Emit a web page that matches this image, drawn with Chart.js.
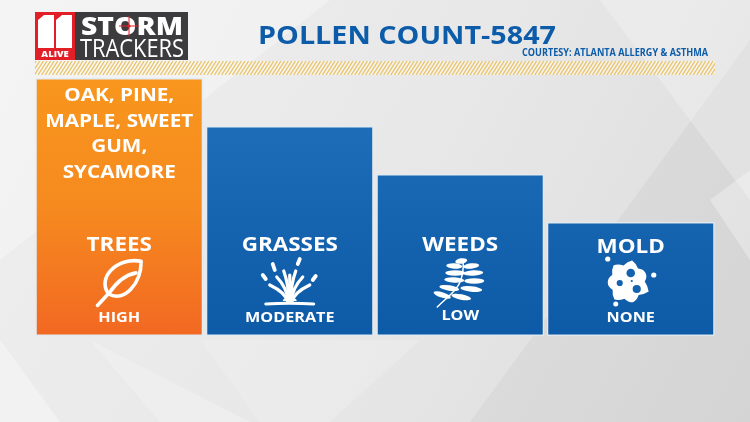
<!DOCTYPE html>
<html>
<head>
<meta charset="utf-8">
<script src="https://cdn.jsdelivr.net/npm/chart.js@4"></script>
<style>
  html,body{margin:0;padding:0;background:#e6e6e6;}
  canvas{display:block;}
</style>
</head>
<body>
<canvas id="c" width="750" height="422"></canvas>
<script>
// ---- data ----
const categories = ['TREES', 'GRASSES', 'WEEDS', 'MOLD'];
const levelLabels = ['HIGH', 'MODERATE', 'LOW', 'NONE'];
const levelValues = [4, 3, 2, 1];
const treeSpecies = ['OAK, PINE,', 'MAPLE, SWEET', 'GUM,', 'SYCAMORE'];
const pollenCount = 5847;
const titleText = 'POLLEN COUNT-' + pollenCount;
const courtesyText = 'COURTESY: ATLANTA ALLERGY & ASTHMA';

const FONT = '"Open Sans", "DejaVu Sans", sans-serif';
const BLUE = '#1462ae';

// draw text with a given font size, stretched horizontally by factor sx
function stretchText(ctx, text, x, y, weight, size, sx) {
  ctx.save();
  ctx.font = weight + ' ' + size + 'px ' + FONT;
  ctx.translate(x, y);
  ctx.scale(sx, 1);
  ctx.fillText(text, 0, 0);
  ctx.restore();
}

// ---- background / header plugin ----
const bgPlugin = {
  id: 'bg',
  beforeDraw(chart) {
    const ctx = chart.ctx, W = chart.width, H = chart.height;
    ctx.save();
    const g = ctx.createLinearGradient(0, 0, W, H);
    g.addColorStop(0, '#efefef');
    g.addColorStop(0.5, '#e8e8e8');
    g.addColorStop(1, '#dcdcdc');
    ctx.fillStyle = g;
    ctx.fillRect(0, 0, W, H);
    const poly = (pts, col) => {
      ctx.beginPath();
      ctx.moveTo(pts[0][0], pts[0][1]);
      for (let i = 1; i < pts.length; i++) ctx.lineTo(pts[i][0], pts[i][1]);
      ctx.closePath(); ctx.fillStyle = col; ctx.fill();
    };
    poly([[0, 0], [330, 0], [0, 260]], 'rgba(255,255,255,0.30)');
    poly([[0, 340], [60, 422], [0, 422]], 'rgba(255,255,255,0.35)');
    poly([[90, 340], [250, 422], [160, 422]], 'rgba(255,255,255,0.22)');
    poly([[200, 340], [420, 340], [330, 422], [260, 422]], 'rgba(255,255,255,0.16)');
    poly([[470, 422], [750, 40], [750, 422]], 'rgba(0,0,0,0.035)');
    poly([[600, 0], [750, 0], [750, 200]], 'rgba(255,255,255,0.25)');
    poly([[710, 200], [750, 170], [750, 260]], 'rgba(255,255,255,0.3)');

    // ---- logo ----
    ctx.fillStyle = '#e21e26';
    ctx.fillRect(35, 12, 40, 48);
    ctx.fillStyle = '#ffffff';
    const one = (x) => {
      ctx.beginPath();
      ctx.moveTo(x, 20); ctx.lineTo(x + 6, 15); ctx.lineTo(x + 16, 15);
      ctx.lineTo(x + 16, 48); ctx.lineTo(x, 48); ctx.lineTo(x, 28); ctx.closePath();
      ctx.fill();
    };
    one(38); one(56);
    ctx.textAlign = 'center'; ctx.textBaseline = 'middle';
    stretchText(ctx, 'ALIVE', 55, 54.5, '800', 9, 1.05);
    ctx.fillStyle = '#3c3c3e';
    ctx.fillRect(75, 12, 113, 48);
    ctx.fillStyle = '#ffffff';
    ctx.textAlign = 'left'; ctx.textBaseline = 'alphabetic';
    ctx.font = '800 24px ' + FONT;
    let w = ctx.measureText('STORM').width;
    stretchText(ctx, 'STORM', 81, 35, '800', 24, 102 / w);
    ctx.strokeStyle = '#e21e26'; ctx.lineWidth = 1;
    ctx.beginPath(); ctx.moveTo(129, 16); ctx.lineTo(129, 36); ctx.moveTo(119, 26); ctx.lineTo(139, 26); ctx.stroke();
    ctx.fillStyle = '#e21e26';
    ctx.beginPath(); ctx.arc(129, 26, 1.6, 0, Math.PI * 2); ctx.fill();
    ctx.fillStyle = '#ffffff';
    ctx.font = '400 25px ' + FONT;
    w = ctx.measureText('TRACKERS').width;
    stretchText(ctx, 'TRACKERS', 80, 57, '400', 25, 104 / w);

    // ---- title ----
    ctx.fillStyle = '#0d5ca9';
    ctx.font = 'bold 25.5px ' + FONT;
    w = ctx.measureText(titleText).width;
    stretchText(ctx, titleText, 258, 44, 'bold', 25.5, 298 / w);
    ctx.font = 'bold 10px ' + FONT;
    w = ctx.measureText(courtesyText).width;
    stretchText(ctx, courtesyText, 522, 56, 'bold', 10, 186 / w);

    // ---- hatch band ----
    ctx.save();
    ctx.beginPath(); ctx.rect(35, 61, 680, 14); ctx.clip();
    ctx.fillStyle = 'rgba(255,250,235,0.6)';
    ctx.fillRect(35, 61, 680, 14);
    ctx.strokeStyle = '#e8c26d'; ctx.lineWidth = 1.3;
    ctx.beginPath();
    for (let x = 20; x < 740; x += 3.6) { ctx.moveTo(x, 75); ctx.lineTo(x + 9, 61); }
    ctx.stroke();
    ctx.restore();
    ctx.restore();
  }
};

// ---- icons ----
function drawLeaf(ctx, cx, cy) {
  ctx.save();
  ctx.translate(cx, cy);
  ctx.rotate(Math.PI / 4.2);
  ctx.strokeStyle = '#fff'; ctx.lineWidth = 3.6; ctx.lineCap = 'round'; ctx.lineJoin = 'round';
  ctx.beginPath();
  ctx.moveTo(0, 16);
  ctx.bezierCurveTo(-20, 12, -18, -18, 2, -30);
  ctx.bezierCurveTo(17, -14, 18, 12, 0, 16);
  ctx.stroke();
  ctx.beginPath();
  ctx.moveTo(0, 32);
  ctx.lineTo(0, 14);
  ctx.bezierCurveTo(-2, 0, 0, -10, 6, -18);
  ctx.stroke();
  ctx.restore();
}
function drawGrass(ctx, cx, cy) {
  ctx.save();
  ctx.fillStyle = '#fff'; ctx.strokeStyle = '#fff'; ctx.lineCap = 'round';
  const by = cy + 22;
  ctx.lineWidth = 3;
  ctx.beginPath(); ctx.moveTo(cx - 24, by); ctx.quadraticCurveTo(cx, by - 1.5, cx + 24, by); ctx.stroke();
  ctx.beginPath(); ctx.ellipse(cx, by - 3, 7, 4, 0, Math.PI, 0); ctx.fill();
  const blades = [[-20, -19], [-13, -27], [-6, -33], [0, -29], [6, -33], [13, -27], [20, -19]];
  ctx.lineWidth = 3.2;
  blades.forEach(([dx, dy]) => {
    ctx.beginPath();
    ctx.moveTo(cx + dx * 0.1, by - 2);
    ctx.quadraticCurveTo(cx + dx * 0.2, by + dy * 0.6, cx + dx, by + dy);
    ctx.stroke();
  });
  ctx.lineWidth = 3.8;
  const tips = [[-24, -25, -27, -29], [-15, -34, -17, -40], [8, -40, 10, -45], [23, -24, 26, -28]];
  tips.forEach(([x1, y1, x2, y2]) => {
    ctx.beginPath(); ctx.moveTo(cx + x1, by + y1); ctx.lineTo(cx + x2, by + y2); ctx.stroke();
  });
  ctx.restore();
}
function drawFern(ctx, cx, cy) {
  ctx.save();
  ctx.fillStyle = '#fff'; ctx.strokeStyle = '#fff'; ctx.lineWidth = 1.5; ctx.lineCap = 'round';
  const p0 = [cx - 23, cy + 25], p1 = [cx - 8, cy + 10], p2 = [cx + 4, cy + 6], p3 = [cx + 3, cy - 21];
  ctx.beginPath();
  ctx.moveTo(p0[0], p0[1]);
  ctx.bezierCurveTo(p1[0], p1[1], p2[0], p2[1], p3[0], p3[1]);
  ctx.stroke();
  const leaves = [
    [1, -21, 6, -0.15],
    [-6, -16, 8, 0.05], [11, -16, 8, -0.1],
    [-5, -9, 10, 0.0], [13, -9, 10, -0.05],
    [-6, -2, 10, 0.05], [14, -1, 10, 0.0],
    [-11, 6, 10, 0.15], [11, 7, 11, 0.1],
    [-18, 13, 9, 0.3], [1, 15, 10, 0.2]
  ];
  leaves.forEach(([dx, dy, l, a]) => {
    ctx.save(); ctx.translate(cx + dx, cy + dy); ctx.rotate(a);
    ctx.beginPath(); ctx.ellipse(0, 0, l, 2.7, 0, 0, Math.PI * 2); ctx.fill();
    ctx.restore();
  });
  ctx.restore();
}
function drawMold(ctx, cx, cy) {
  ctx.save();
  ctx.fillStyle = '#fff';
  const n = 7;
  const R = [22, 20, 23, 21, 22, 20, 22];
  ctx.beginPath();
  for (let i = 0; i <= n * 2; i++) {
    const a = i / (n * 2) * Math.PI * 2 - Math.PI / 2 + 0.2;
    const r = i % 2 === 0 ? R[(i / 2) % n] : 17;
    const x = cx + Math.cos(a) * r, y = cy + Math.sin(a) * r;
    if (i === 0) { ctx.moveTo(x, y); continue; }
    const ap = (i - 0.5) / (n * 2) * Math.PI * 2 - Math.PI / 2 + 0.2;
    const rp = 20.5;
    ctx.quadraticCurveTo(cx + Math.cos(ap) * rp, cy + Math.sin(ap) * rp, x, y);
  }
  ctx.closePath(); ctx.fill();
  ctx.fillStyle = BLUE;
  [[3, -9, 4.3], [-8, 1, 3.1], [9, 7, 4.1], [4, -1, 1.1]].forEach(([dx, dy, r]) => {
    ctx.beginPath(); ctx.arc(cx + dx, cy + dy, r, 0, Math.PI * 2); ctx.fill();
  });
  ctx.fillStyle = '#fff';
  [[-20, -23, 2.6], [26, -7, 2.6], [-12, 22, 2.5]].forEach(([dx, dy, r]) => {
    ctx.beginPath(); ctx.arc(cx + dx, cy + dy, r, 0, Math.PI * 2); ctx.fill();
  });
  ctx.restore();
}
const icons = [drawLeaf, drawGrass, drawFern, drawMold];

// ---- labels plugin ----
const labelPlugin = {
  id: 'labels',
  afterDatasetsDraw(chart) {
    const ctx = chart.ctx;
    const meta = chart.getDatasetMeta(0);
    ctx.save();
    ctx.fillStyle = '#ffffff';
    ctx.textAlign = 'center'; ctx.textBaseline = 'middle';
    meta.data.forEach((bar, i) => {
      const x = bar.x, base = bar.base, top = bar.y;
      ctx.fillStyle = '#fff';
      stretchText(ctx, categories[i], x, base - 91 + (i === 3 ? 2 : 0), 'bold', 19.5, 1.15);
      stretchText(ctx, levelLabels[i], x, base - 18 - (i === 2 ? 2 : 0), 'bold', 15, 1.08);
      icons[i](ctx, x + (i === 3 ? -3 : 0), base - 54);
      if (i === 0) {
        treeSpecies.forEach((s, k) => stretchText(ctx, s, x, top + 18 + k * 25.5, 'bold', 18.5, 1.12));
      }
    });
    ctx.restore();
  }
};

const ctx = document.getElementById('c').getContext('2d');
new Chart(ctx, {
  type: 'bar',
  data: {
    labels: categories,
    datasets: [{
      data: levelValues,
      base: -1.375,
      backgroundColor: (c) => {
        const ch = c.chart, area = ch.chartArea;
        if (!area) return BLUE;
        const g = ch.ctx.createLinearGradient(0, area.top, 0, area.bottom);
        if (c.dataIndex === 0) {
          g.addColorStop(0, '#f8961d'); g.addColorStop(0.5, '#f68a1f'); g.addColorStop(1, '#f26822');
        } else {
          g.addColorStop(0, '#2071bb'); g.addColorStop(1, '#0d5aa7');
        }
        return g;
      },
      borderColor: 'rgba(225,235,245,0.85)',
      borderWidth: 1.5,
      borderSkipped: false,
      barPercentage: 0.985,
      categoryPercentage: 1
    }]
  },
  options: {
    responsive: false,
    animation: false,
    layout: { padding: { left: 34, right: 34, top: 78, bottom: 86 } },
    plugins: { legend: { display: false }, tooltip: { enabled: false } },
    scales: {
      x: { display: false },
      y: { display: false, min: -1.375, max: 4 }
    }
  },
  plugins: [bgPlugin, labelPlugin]
});
</script>
</body>
</html>
